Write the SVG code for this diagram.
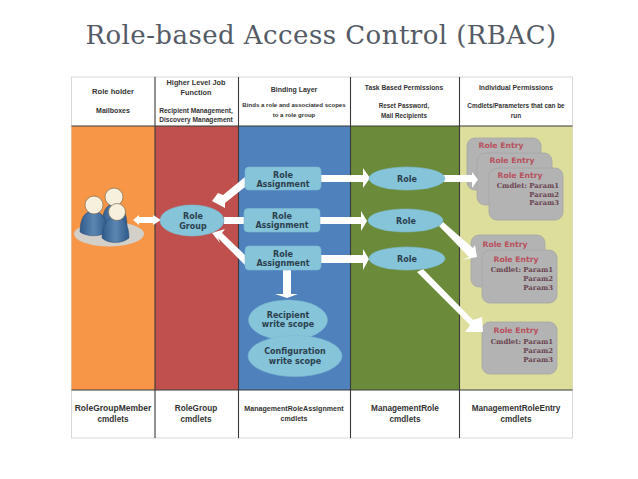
<svg xmlns="http://www.w3.org/2000/svg" width="638" height="479" viewBox="0 0 638 479">
<defs>
<linearGradient id="body" x1="0" x2="1" y1="0" y2="0"><stop offset="0" stop-color="#2f5a8c"/><stop offset=".5" stop-color="#5c86b2"/><stop offset="1" stop-color="#2f5a8c"/></linearGradient>
</defs>
<style>
text{font-family:"Liberation Sans","DejaVu Sans",sans-serif;text-anchor:middle}
.h{font-size:7px;font-weight:700;fill:#333}
.f{font-size:8.200px;font-weight:700;fill:#333}
.n{font-family:"DejaVu Sans",sans-serif;font-size:8px;font-weight:700;fill:#2b3f4d}
.rb{fill:#86c4da;stroke:#7cbad0;stroke-width:.6}
.e{fill:#b3b3b3;stroke:#a6a6a6;stroke-width:.8}
.t{font-family:"DejaVu Sans",sans-serif;font-size:7.700px;font-weight:700;fill:#b8505c}
.p{font-family:"DejaVu Serif",serif;font-size:6.900px;font-weight:700;fill:#6a4450;text-anchor:end}
.a{fill:#fff}
.l{stroke:#3a3a3a;stroke-width:1.100;fill:none}
.body{fill:url(#body);stroke:#2a4a70;stroke-width:.5}
.face{fill:#f6f0dc;stroke:#7a6a55;stroke-width:.7}
</style>
<rect width="638" height="479" fill="#fff"/>
<text x="321" y="44" font-size="26" letter-spacing=".45" style="font-family:'DejaVu Serif',serif;font-weight:400;fill:#555b66">Role-based Access Control (RBAC)</text>

<g id="bands">
<rect x="71.500" y="77" width="501" height="361" fill="#fff" stroke="#d8d8d8"/>
<rect x="71.500" y="126" width="83.500" height="264" fill="#f79646"/>
<rect x="155" y="126" width="83.500" height="264" fill="#c0504d"/>
<rect x="238.500" y="126" width="112" height="264" fill="#4f81bd"/>
<rect x="350.500" y="126" width="109" height="264" fill="#6b8b3a"/>
<rect x="459.500" y="126" width="113" height="264" fill="#dddd9c"/>
<path class="l" d="M71.500 126H572.500M71.500 390H572.500M155 77V438M238.500 77V438M350.500 77V438M459.500 77V438"/>
</g>

<g id="header-text">
<text class="h" x="113" y="94" style="font-size:7.600px">Role holder</text>
<text class="h" x="113" y="113">Mailboxes</text>
<text class="h" x="196" y="85" style="font-size:7.300px">Higher Level Job</text>
<text class="h" x="196" y="95" style="font-size:7.300px">Function</text>
<text class="h" x="196" y="113" style="font-size:6.600px">Recipient Management,</text>
<text class="h" x="196" y="122" style="font-size:6.600px">Discovery Management</text>
<text class="h" x="294" y="92">Binding Layer</text>
<text class="h" x="294" y="107" style="font-size:6.100px">Binds a role and associated scopes</text>
<text class="h" x="294" y="117" style="font-size:6.100px">to a role group</text>
<text class="h" x="404" y="90" style="font-size:6.700px">Task Based Permissions</text>
<text class="h" x="404" y="108" style="font-size:6.300px">Reset Password,</text>
<text class="h" x="404" y="118" style="font-size:6.300px">Mail Recipients</text>
<text class="h" x="516" y="90" style="font-size:6.800px">Individual Permissions</text>
<text class="h" x="516" y="108" style="font-size:6.400px">Cmdlets/Parameters that can be</text>
<text class="h" x="516" y="118" style="font-size:6.400px">run</text>
</g>

<g id="footer-text">
<text class="f" x="113" y="411" style="font-size:8.500px">RoleGroupMember</text>
<text class="f" x="113" y="422">cmdlets</text>
<text class="f" x="196" y="411">RoleGroup</text>
<text class="f" x="196" y="422">cmdlets</text>
<text class="f" x="294" y="411" style="font-size:7.100px">ManagementRoleAssignment</text>
<text class="f" x="294" y="420.500" style="font-size:7.100px">cmdlets</text>
<text class="f" x="405" y="411">ManagementRole</text>
<text class="f" x="405" y="422">cmdlets</text>
<text class="f" x="516" y="411">ManagementRoleEntry</text>
<text class="f" x="516" y="422">cmdlets</text>
</g>

<g id="role-holder">
<ellipse cx="109" cy="234" rx="35" ry="12.500" fill="#d3cfc9"/>
<path class="body" d="M102 226C102 212 106 204 114 204C122 204 127 212 127 226Z"/>
<circle class="face" cx="114" cy="197" r="9"/>
<path class="body" d="M80 232C80 218 85 211 93 211C102 211 107 219 107 232C100 237 87 237 80 232Z"/>
<circle class="face" cx="94" cy="205" r="9"/>
<path class="body" d="M102 238C102 224 107 217 116 217C124 217 129 225 129 238C122 244 108 244 102 238Z"/>
<circle class="face" cx="117" cy="212" r="8.500"/>
</g>

<g id="entry-a"><rect class="e" x="467" y="138" width="74" height="52" rx="8"/><text class="t" x="501" y="148">Role Entry</text></g>
<g id="entry-b"><rect class="e" x="477" y="153" width="75" height="52" rx="8"/><text class="t" x="512" y="163">Role Entry</text></g>
<g id="entry-c"><rect class="e" x="489" y="168" width="74" height="52" rx="8"/><text class="t" x="520" y="178">Role Entry</text>
<text class="p" x="559" y="188">Cmdlet: Param1</text><text class="p" x="559" y="196.500">Param2</text><text class="p" x="559" y="205">Param3</text></g>
<g id="entry-d"><rect class="e" x="471" y="235" width="74" height="52" rx="8"/><text class="t" x="505" y="247">Role Entry</text></g>
<g id="entry-e"><rect class="e" x="482" y="250" width="75" height="53" rx="8"/><text class="t" x="516" y="262">Role Entry</text>
<text class="p" x="553" y="272">Cmdlet: Param1</text><text class="p" x="553" y="281">Param2</text><text class="p" x="553" y="290">Param3</text></g>
<g id="entry-f"><rect class="e" x="482" y="322" width="75" height="52" rx="8"/><text class="t" x="516" y="333">Role Entry</text>
<text class="p" x="553" y="344">Cmdlet: Param1</text><text class="p" x="553" y="353">Param2</text><text class="p" x="553" y="362">Param3</text></g>

<g id="connectors">
<path class="a" d="M133 220l6-5v2h14v-2l8 5-8 5v-2h-14v2z"/>
<path class="a" d="M245 177L223 195 218 193 212 201 225 208 225 203 245 187z"/>
<path class="a" d="M224 217H245V224H224z"/>
<path class="a" d="M245 255L222 233 225 229 212 233 220 243 218 238 245 265z"/>
<path class="a" d="M321 175H363V168L370 178 363 188V182H321z"/>
<path class="a" d="M320 217H361V211L367 221 361 231V224H320z"/>
<path class="a" d="M321 255H363V249L369 259 363 270V263H321z"/>
<path class="a" d="M443 175H472V172L478 179.500 472 188V182H443z"/>
<path class="a" d="M443 222L473 248 475 245 477 257 462 260 469 257 439 226z"/>
<path class="a" d="M423 269L473 320 482 317 483 332 465 332 470 325 417 272z"/>
<path class="a" d="M283 270H291V294H298L287 298 275 294H283z"/>
</g>

<g id="role-group"><ellipse class="rb" cx="192" cy="220.500" rx="32" ry="15.500"/><text class="n" x="193" y="219">Role</text><text class="n" x="193" y="229">Group</text></g>
<g id="assignment-1"><rect class="rb" x="245" y="167" width="76" height="23" rx="4"/><text class="n" x="283" y="177.500">Role</text><text class="n" x="283" y="186.500">Assignment</text></g>
<g id="assignment-2"><rect class="rb" x="244" y="208.500" width="76" height="23.500" rx="4"/><text class="n" x="282" y="219">Role</text><text class="n" x="282" y="228">Assignment</text></g>
<g id="assignment-3"><rect class="rb" x="245" y="246" width="76" height="24" rx="4"/><text class="n" x="283" y="257">Role</text><text class="n" x="283" y="266">Assignment</text></g>
<g id="recipient-scope"><ellipse class="rb" cx="288" cy="320" rx="39.500" ry="20"/><text class="n" x="288" y="318">Recipient</text><text class="n" x="288" y="327">write scope</text></g>
<g id="configuration-scope"><ellipse class="rb" cx="295" cy="356" rx="47" ry="20.500"/><text class="n" x="295" y="354">Configuration</text><text class="n" x="295" y="364">write scope</text></g>
<g id="role-1"><ellipse class="rb" cx="407" cy="178.500" rx="38" ry="11.500"/><text class="n" x="407" y="182">Role</text></g>
<g id="role-2"><ellipse class="rb" cx="405.500" cy="220.500" rx="37.500" ry="11.500"/><text class="n" x="406" y="224">Role</text></g>
<g id="role-3"><ellipse class="rb" cx="407" cy="258.500" rx="38" ry="11.500"/><text class="n" x="407" y="262">Role</text></g>
</svg>
